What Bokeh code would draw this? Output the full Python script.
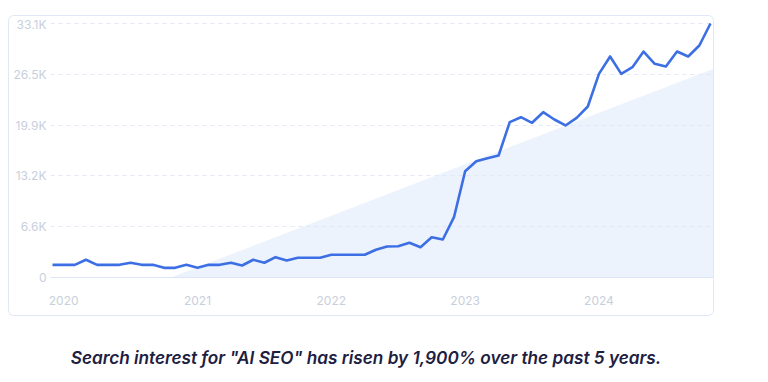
from bokeh.plotting import figure
from bokeh.models import FixedTicker, Div, ColumnDataSource, Spacer
from bokeh.layouts import column, row
from bokeh.embed import file_html
from bokeh.resources import INLINE

# Monthly search volume, Dec 2019 .. Nov 2024 (index 0..59)
month_index = list(range(60))
search_volume = [1650, 1650, 1650, 2310, 1650, 1650, 1650, 1920, 1650, 1650,
                 1260, 1260, 1650, 1260, 1650, 1650, 1920, 1560, 2310, 1920,
                 2650, 2220, 2570, 2570, 2570, 2960, 2960, 2960, 2960, 3610,
                 4040, 4080, 4520, 3950, 5250, 4950, 7860, 13850, 15160, 15550,
                 15900, 20240, 20890, 20160, 21540, 20590, 19810, 20810, 22280, 26540,
                 28800, 26540, 27400, 29450, 27850, 27500, 29450, 28800, 30230, 33100]

x_tick_positions = [1, 13, 25, 37, 49]
x_tick_labels = ["2020", "2021", "2022", "2023", "2024"]
y_tick_values = [0, 6620, 13240, 19860, 26480, 33100]
y_tick_labels = ["0", "6.6K", "13.2K", "19.9K", "26.5K", "33.1K"]

# decorative background wedge
wedge_x = [10.6, 59.27, 59.27]
wedge_y = [0, 27200, 0]

caption_text = 'Search interest for "AI SEO" has risen by 1,900% over the past 5 years.'

p = figure(width=704, height=299, x_range=(-0.18, 59.27), y_range=(0, 33490),
           output_backend="svg", toolbar_location=None,
           min_border_left=41, min_border_right=0, min_border_top=4, min_border_bottom=38,
           outline_line_color=None, background_fill_color="white", border_fill_color="white")
p.styles = {"box-shadow": "0 0 0 1px #dfe8f7", "border-radius": "5px", "overflow": "hidden"}

p.patch(wedge_x, wedge_y, fill_color="#dbe7fb", fill_alpha=0.5, line_color=None)

src = ColumnDataSource(dict(x=month_index, y=search_volume))
p.line("x", "y", source=src, line_color="#3d6fe4", line_width=2.6, line_join="round")

p.xgrid.grid_line_color = None
p.ygrid.grid_line_color = "#e3e9f4"
p.ygrid.grid_line_dash = "4 4"
p.ygrid.grid_line_width = 1

p.xaxis.ticker = FixedTicker(ticks=x_tick_positions)
p.xaxis.major_label_overrides = dict(zip(x_tick_positions, x_tick_labels))
p.yaxis.ticker = FixedTicker(ticks=y_tick_values)
p.yaxis.major_label_overrides = dict(zip(y_tick_values, y_tick_labels))

for ax in (p.xaxis, p.yaxis):
    ax.major_tick_line_color = None
    ax.minor_tick_line_color = None
    ax.major_tick_out = 0
    ax.major_label_text_font = "Inter"
    ax.major_label_text_font_size = "12px"
    ax.major_label_text_color = "#c8cfdc"

p.xaxis.axis_line_color = "#dde6f6"
p.xaxis.major_label_standoff = 18
p.yaxis.axis_line_color = None
p.yaxis.major_label_standoff = 4

cap = Div(text=caption_text, width=704,
          styles={"font-family": "Inter", "font-size": "17.2px", "font-style": "italic",
                  "font-weight": "600", "color": "#1d2041", "text-align": "center",
                  "line-height": "20px", "width": "704px"})

layout = column(Spacer(height=16),
                row(Spacer(width=9), p),
                Spacer(height=28),
                row(Spacer(width=9), cap))
open("out.html", "w").write(file_html(layout, INLINE))
